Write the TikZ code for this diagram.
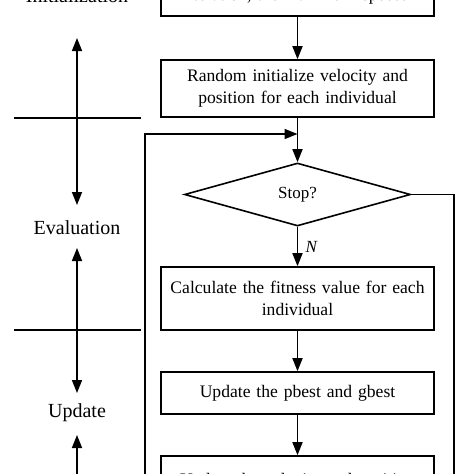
\documentclass[tikz,border=0pt]{standalone}
\usepackage{fontspec}
\setmainfont{Liberation Serif}
\usetikzlibrary{arrows.meta,shapes.geometric}
\begin{document}
\begin{tikzpicture}[x=1pt,y=-1pt,
  ln/.style={line width=1.6pt},
  arr/.style={ln,-{Triangle[length=13pt,width=10pt]}},
  box/.style={draw,ln,minimum width=273pt,text width=263pt,inner sep=5pt,align=center,font=\fontsize{17.6}{22}\selectfont},
  dec/.style={draw,ln,diamond,minimum width=226pt,minimum height=63pt,inner sep=0pt,font=\fontsize{17}{20}\selectfont},
  side/.style={font=\fontsize{20}{24}\selectfont}]
\fill[white] (0,0) rectangle (474,474);
\useasboundingbox (0,0) rectangle (474,474);
% main column
\node[box,minimum height=62pt] (b1) at (297.5,-15) {Initialize the parameters: population\\iteration, the maximum speed.};
\node[box,minimum height=57pt] (b2) at (297.5,88.5) {Random initialize velocity and\\position for each individual};
\node[dec] (d) at (297.5,194.5) {Stop?};
\node[box,minimum height=63pt] (b3) at (297.5,298.5) {Calculate the fitness value for each\\individual};
\node[box,minimum height=42pt] (b4) at (297.5,393) {Update the pbest and gbest};
\node[box,minimum height=69pt] (b5) at (297.5,490.5) {Update the velocity and position\\for each individual};
\draw[arr] (b1) -- (b2);
\draw[arr] (b2) -- (d);
\draw[arr] (d) -- node[right,xshift=4pt,font=\fontsize{17}{20}\selectfont\itshape] {N} (b3);
\draw[arr] (b3) -- (b4);
\draw[arr] (b4) -- (b5);
% loop lines
\coordinate (j) at (297.5,134);
\coordinate (fb) at (145,490);
\coordinate (yb) at (454,490);
\draw[arr] (fb) |- (j);
\draw[ln] (d.east) -| (yb);
% left phase axis
\node[side,anchor=base] (tInit) at (77,2.5) {Initialization};
\node[side] (tEval) at (77,228) {Evaluation};
\node[side] (tUpd) at (77,413) {Update};
\coordinate (h1a) at (14,118);
\coordinate (h1b) at (141,118);
\coordinate (h2a) at (14,330);
\coordinate (h2b) at (141,330);
\coordinate (c1) at (77,118);
\coordinate (c2) at (77,330);
\coordinate (t1) at (77,38);
\coordinate (t2) at (77,205);
\coordinate (t3) at (77,248);
\coordinate (t4) at (77,393);
\coordinate (t5) at (77,435);
\coordinate (c3) at (77,490);
\draw[ln] (h1a) -- (h1b);
\draw[ln] (h2a) -- (h2b);
\draw[arr] (c1) -- (t1);
\draw[arr] (c1) -- (t2);
\draw[arr] (c2) -- (t3);
\draw[arr] (c2) -- (t4);
\draw[arr] (c3) -- (t5);
\end{tikzpicture}
\end{document}
